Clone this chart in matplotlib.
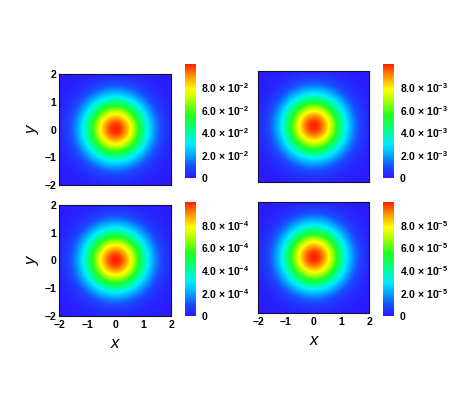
import numpy as np
import matplotlib
matplotlib.use("Agg")
import matplotlib.pyplot as plt
from matplotlib.colors import LinearSegmentedColormap

plt.rcParams['font.family'] = 'Liberation Sans'
plt.rcParams['font.weight'] = 'bold'
plt.rcParams['mathtext.fontset'] = 'custom'
plt.rcParams['mathtext.rm'] = 'Liberation Sans:bold'
plt.rcParams['mathtext.bf'] = 'Liberation Sans:bold'
plt.rcParams['mathtext.it'] = 'Liberation Sans:italic'

# data: gaussian spots, one per panel
peaks = [1e-2, 1e-3, 1e-4, 1e-5]
exponents = [2, 3, 4, 5]
width = 1.06          # 1/e radius of the spot
extent = [-2, 2]
cbar_ticks = [0, 2.0, 4.0, 6.0, 8.0]   # mantissa, x 10^-k
cbar_max = 10.0
axis_ticks = [-2, -1, 0, 1, 2]

cmap = LinearSegmentedColormap.from_list("rb", [
    (0.0, "#2b1bff"), (0.1, "#1a4cff"), (0.2, "#00aaff"), (0.3, "#00eeff"),
    (0.4, "#00ff9a"), (0.55, "#20ff20"), (0.7, "#c0ff00"), (0.78, "#ffff00"),
    (0.9, "#ff9000"), (1.0, "#ff2000")])

g = np.linspace(extent[0], extent[1], 300)
X, Y = np.meshgrid(g, g)
grad = np.linspace(0, 1, 256).reshape(-1, 1)

fig = plt.figure(figsize=(4.74, 4.13), dpi=100)

ax_pos = [[0.1245, 0.552, 0.2363, 0.2688],
          [0.5443, 0.5593, 0.2342, 0.2688],
          [0.1245, 0.2349, 0.2363, 0.2688],
          [0.5443, 0.2421, 0.2342, 0.2688]]
cb_pos = [[0.390, 0.569, 0.0232, 0.276],
          [0.808, 0.569, 0.0232, 0.276],
          [0.390, 0.2349, 0.0232, 0.276],
          [0.808, 0.2349, 0.0232, 0.276]]

for i in range(4):
    ax = fig.add_axes(ax_pos[i])
    Z = peaks[i] * np.exp(-(X**2 + Y**2) / width**2)
    ax.imshow(Z, extent=[-2, 2, -2, 2], origin='lower', cmap=cmap,
              vmin=0, vmax=peaks[i], interpolation='bilinear', aspect='auto')
    ax.set_xticks(axis_ticks)
    ax.set_yticks(axis_ticks)
    ax.set_xticklabels(['\u22122', '\u22121', '0', '1', '2'])
    ax.set_yticklabels(['\u22122', '\u22121', '0', '1', '2'])
    ax.tick_params(length=0, labelsize=7.5, pad=2)
    ax.tick_params(axis='x', pad=3)
    for s in ax.spines.values():
        s.set_linewidth(0.8)
        s.set_color('#101030')
    if i in (0, 2):
        ax.set_ylabel('y', fontsize=12, fontstyle='italic', fontweight='normal', labelpad=3)
    else:
        ax.set_yticklabels([])
    if i in (2, 3):
        ax.set_xlabel('x', fontsize=12, fontstyle='italic', fontweight='normal', labelpad=4)
    else:
        ax.set_xticklabels([])

    # colour scale drawn by hand in mantissa units
    cax = fig.add_axes(cb_pos[i])
    cax.imshow(grad, extent=[0, 1, 0, cbar_max], origin='lower', cmap=cmap,
               aspect='auto')
    for s in cax.spines.values():
        s.set_visible(False)
    cax.set_xticks([])
    cax.yaxis.tick_right()
    k = exponents[i]
    cax.set_yticks(cbar_ticks)
    cax.set_yticklabels(['0'] + ['%.1f $\\times$ 10$^{-%d}$' % (t, k) for t in cbar_ticks[1:]])
    cax.tick_params(length=0, labelsize=7.5, pad=4)

fig.savefig("out.png", dpi=100)
